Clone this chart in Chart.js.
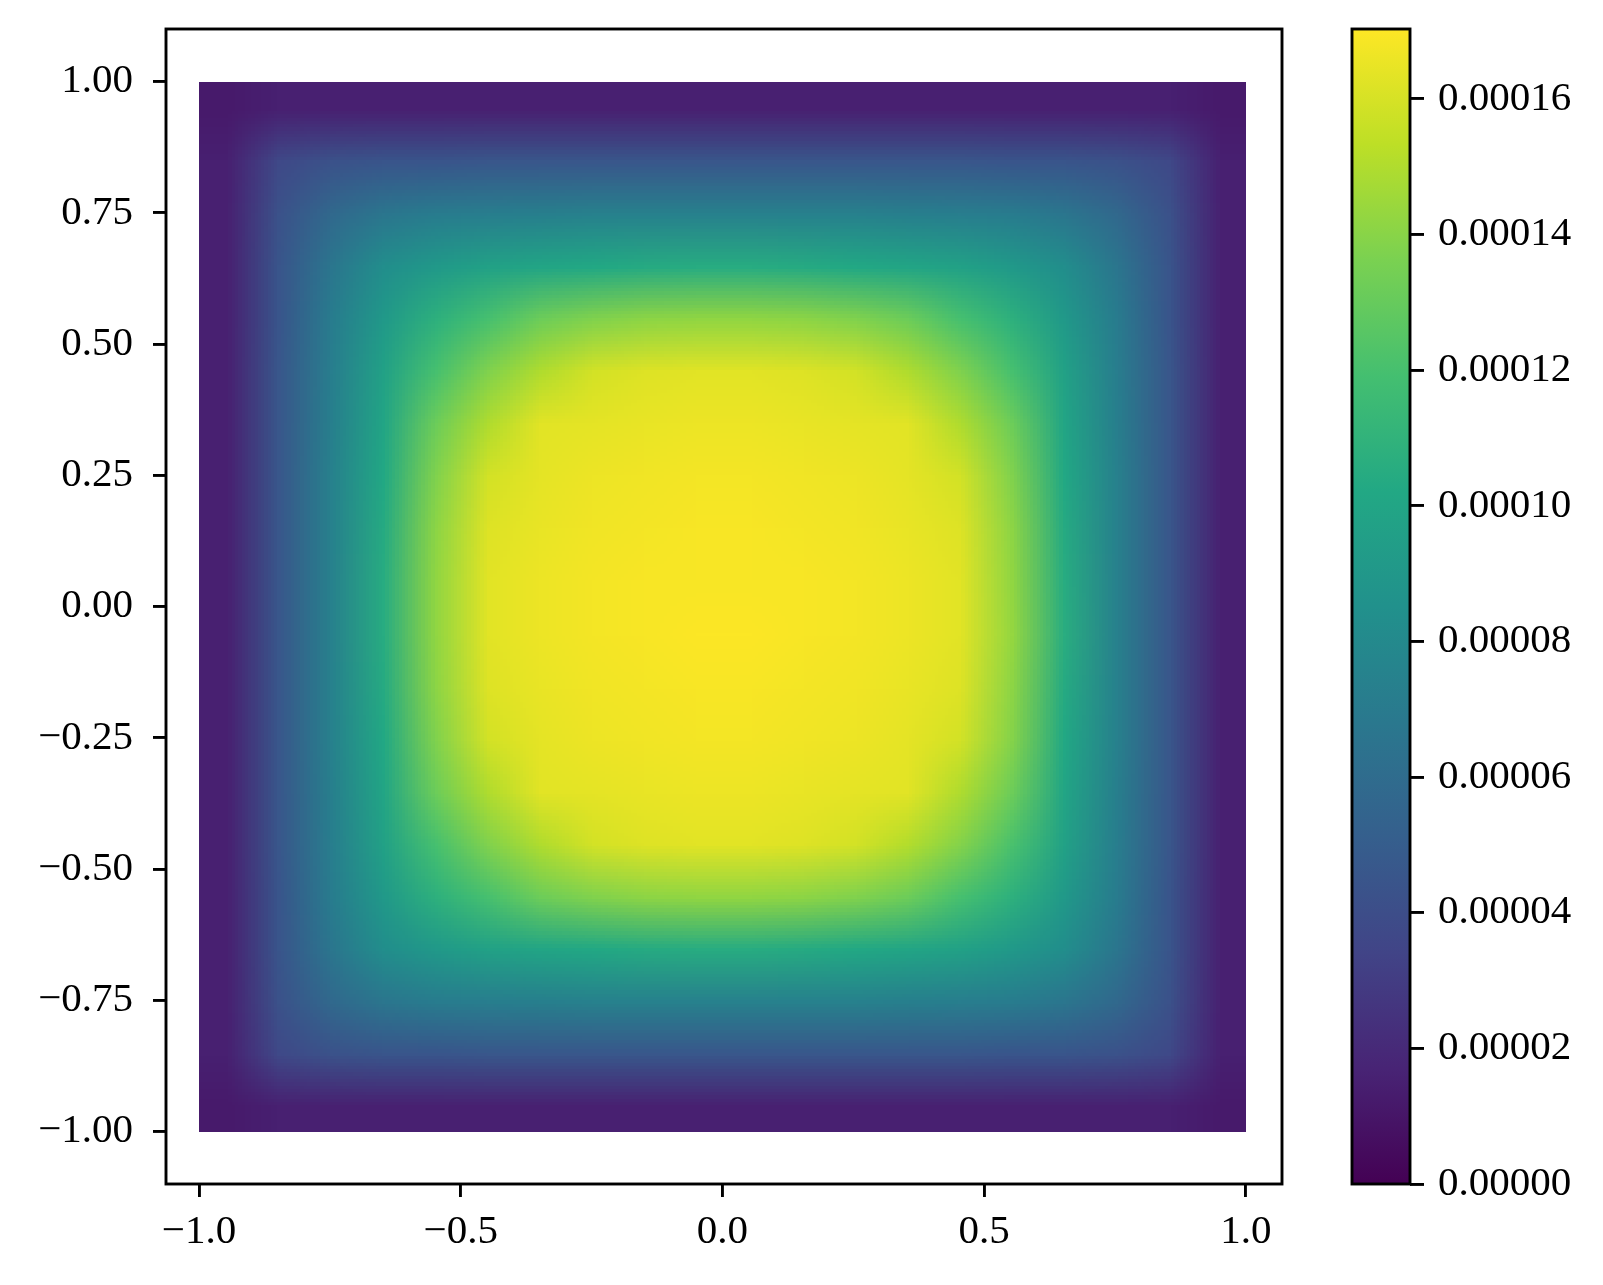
<!DOCTYPE html>
<html>
<head>
<meta charset="utf-8">
<script src="https://cdn.jsdelivr.net/npm/chart.js@4.4.0/dist/chart.umd.min.js"></script>
<style>
  body { margin: 0; background: #fff; }
  #wrap { position: relative; width: 1603px; height: 1285px; }
  canvas { position: absolute; top: 0; }
  #field { left: 0; }
  #cbar { left: 1320px; }
</style>
</head>
<body>
<div id="wrap">
  <canvas id="field" width="1320" height="1285"></canvas>
  <canvas id="cbar" width="283" height="1285"></canvas>
</div>
<script>
// cell centres of the sampled field (x left->right, y top->bottom)
const xCenters = [-0.95, -0.85, -0.75, -0.65, -0.55, -0.45, -0.35, -0.25, -0.15, -0.05,
                  0.05, 0.15, 0.25, 0.35, 0.45, 0.55, 0.65, 0.75, 0.85, 0.95];
const yCenters = [0.95, 0.85, 0.75, 0.65, 0.55, 0.45, 0.35, 0.25, 0.15, 0.05,
                  -0.05, -0.15, -0.25, -0.35, -0.45, -0.55, -0.65, -0.75, -0.85, -0.95];

// field values, in units of 1e-5
const fieldE5 = [
  [1.2,1.5,1.5,1.5,1.5,1.5,1.5,1.5,1.5,1.5,1.5,1.5,1.5,1.5,1.5,1.5,1.5,1.5,1.5,1.2],
  [1.5,3.7,4.3,4.5,4.5,4.6,4.6,4.6,4.6,4.6,4.6,4.6,4.6,4.6,4.6,4.5,4.5,4.3,3.7,1.5],
  [1.5,4.3,5.8,6.7,7.1,7.2,7.3,7.4,7.4,7.4,7.4,7.4,7.4,7.3,7.2,7.1,6.7,5.8,4.3,1.5],
  [1.5,4.5,6.7,8.3,9.1,9.7,10.0,10.2,10.4,10.5,10.5,10.4,10.2,10.0,9.7,9.1,8.3,6.7,4.5,1.5],
  [1.5,4.5,7.1,9.1,10.8,12.0,13.2,13.8,14.1,14.2,14.2,14.1,13.8,13.2,12.0,10.8,9.1,7.1,4.5,1.5],
  [1.5,4.6,7.2,9.7,12.0,13.8,15.0,15.9,16.2,16.3,16.3,16.2,15.9,15.0,13.8,12.0,9.7,7.2,4.6,1.5],
  [1.5,4.6,7.3,10.0,13.2,15.0,16.3,16.4,16.5,16.6,16.6,16.5,16.4,16.3,15.0,13.2,10.0,7.3,4.6,1.5],
  [1.5,4.6,7.4,10.2,13.8,15.9,16.4,16.6,16.7,16.8,16.8,16.7,16.6,16.4,15.9,13.8,10.2,7.4,4.6,1.5],
  [1.5,4.6,7.4,10.4,14.1,16.2,16.5,16.7,16.8,16.9,16.9,16.8,16.7,16.5,16.2,14.1,10.4,7.4,4.6,1.5],
  [1.5,4.6,7.4,10.5,14.2,16.3,16.6,16.8,16.9,16.9,16.9,16.9,16.8,16.6,16.3,14.2,10.5,7.4,4.6,1.5],
  [1.5,4.6,7.4,10.5,14.2,16.3,16.6,16.8,16.9,17.0,17.0,16.9,16.8,16.6,16.3,14.3,10.6,7.4,4.6,1.5],
  [1.5,4.6,7.4,10.4,14.1,16.2,16.5,16.7,16.8,16.9,16.9,16.8,16.7,16.5,16.2,14.1,10.4,7.4,4.6,1.5],
  [1.5,4.6,7.4,10.2,13.8,15.9,16.4,16.6,16.7,16.8,16.8,16.7,16.6,16.4,15.9,13.9,10.2,7.4,4.6,1.5],
  [1.5,4.6,7.3,10.0,13.2,15.0,16.3,16.4,16.5,16.6,16.6,16.5,16.4,16.3,15.0,13.2,10.0,7.3,4.6,1.5],
  [1.5,4.6,7.2,9.7,12.0,13.8,15.0,15.9,16.2,16.3,16.3,16.2,15.9,15.1,13.9,12.1,9.7,7.2,4.6,1.5],
  [1.5,4.5,7.1,9.1,10.8,12.0,13.2,13.8,14.1,14.2,14.2,14.1,13.8,13.2,12.0,10.8,9.1,7.1,4.5,1.5],
  [1.5,4.5,6.7,8.3,9.1,9.7,10.0,10.2,10.4,10.5,10.5,10.4,10.2,10.0,9.7,9.1,8.3,6.7,4.5,1.5],
  [1.5,4.3,5.8,6.7,7.1,7.2,7.3,7.4,7.4,7.4,7.4,7.4,7.4,7.3,7.2,7.1,6.7,5.8,4.3,1.5],
  [1.5,3.7,4.3,4.5,4.5,4.6,4.6,4.6,4.6,4.6,4.6,4.6,4.6,4.6,4.6,4.5,4.5,4.3,3.7,1.5],
  [1.2,1.5,1.5,1.5,1.5,1.5,1.5,1.5,1.5,1.5,1.5,1.5,1.5,1.5,1.5,1.5,1.5,1.5,1.5,1.2]
];

const xTicks = [-1, -0.5, 0, 0.5, 1];
const yTicks = [-1, -0.75, -0.5, -0.25, 0, 0.25, 0.5, 0.75, 1];
const cbarTicks = [0, 0.00002, 0.00004, 0.00006, 0.00008, 0.0001, 0.00012, 0.00014, 0.00016];
const cbarMin = 0;
const cbarMax = 0.0001703;

// viridis, 11 stops
const viridis = ['#440154', '#482475', '#414487', '#355f8d', '#2a788e', '#21918c',
                 '#22a884', '#44bf70', '#7ad151', '#bddf26', '#fde725'];

function hexRgb(h) {
  return [parseInt(h.slice(1, 3), 16), parseInt(h.slice(3, 5), 16), parseInt(h.slice(5, 7), 16)];
}
const viridisRgb = viridis.map(hexRgb);

function rgbFor(v) {
  let t = (v - cbarMin) / (cbarMax - cbarMin);
  t = Math.max(0, Math.min(1, t));
  const p = t * (viridisRgb.length - 1);
  const i = Math.min(Math.floor(p), viridisRgb.length - 2);
  const f = p - i;
  const a = viridisRgb[i], b = viridisRgb[i + 1];
  return a.map((ai, k) => Math.round(ai + (b[k] - ai) * f));
}

function fmt(v, d) {
  const s = Math.abs(v).toFixed(d);
  return v < -1e-9 ? '\u2212' + s : s;
}

const points = [];
yCenters.forEach((y, i) => {
  xCenters.forEach((x, j) => {
    points.push({ x: x, y: y, v: fieldE5[i][j] * 1e-5, i: i, j: j });
  });
});

const font = { family: '"Liberation Serif", "DejaVu Serif", serif', size: 41 };
const lw = 2.9;

// one texel per cell, placed on the plot through the scales (smoothed like gouraud shading)
const heatPlugin = {
  id: 'heat',
  beforeDatasetsDraw(chart) {
    const ctx = chart.ctx;
    const xs = chart.scales.x, ys = chart.scales.y;
    const nx = xCenters.length, ny = yCenters.length;
    const hw = (xCenters[1] - xCenters[0]) / 2;
    const hh = Math.abs(yCenters[0] - yCenters[1]) / 2;
    const off = document.createElement('canvas');
    off.width = nx; off.height = ny;
    const octx = off.getContext('2d');
    const img = octx.createImageData(nx, ny);
    chart.data.datasets[0].data.forEach(p => {
      const c = rgbFor(p.v);
      const k = (p.i * nx + p.j) * 4;
      img.data[k] = c[0]; img.data[k + 1] = c[1]; img.data[k + 2] = c[2]; img.data[k + 3] = 255;
    });
    octx.putImageData(img, 0, 0);
    const x0 = xs.getPixelForValue(xCenters[0] - hw);
    const x1 = xs.getPixelForValue(xCenters[nx - 1] + hw);
    const y0 = ys.getPixelForValue(yCenters[0] + hh);
    const y1 = ys.getPixelForValue(yCenters[ny - 1] - hh);
    ctx.save();
    ctx.imageSmoothingEnabled = true;
    ctx.imageSmoothingQuality = 'low';
    ctx.drawImage(off, 0, 0, nx, ny, x0, y0, x1 - x0, y1 - y0);
    ctx.restore();
  }
};

const framePlugin = {
  id: 'frame',
  afterDraw(chart) {
    const a = chart.chartArea;
    const ctx = chart.ctx;
    ctx.save();
    ctx.strokeStyle = '#000';
    ctx.lineWidth = lw;
    ctx.strokeRect(a.left, a.top, a.right - a.left, a.bottom - a.top);
    ctx.restore();
  }
};

function noPad(s) {
  s.paddingTop = 0; s.paddingBottom = 0; s.paddingLeft = 0; s.paddingRight = 0;
}

const tickGrid = { display: true, drawOnChartArea: false, drawTicks: true, tickLength: 13,
                   tickWidth: lw, lineWidth: lw, tickColor: '#000', color: '#000' };

new Chart(document.getElementById('field'), {
  type: 'scatter',
  data: { datasets: [{ data: points, pointRadius: 0, pointHoverRadius: 0 }] },
  options: {
    responsive: false,
    animation: false,
    devicePixelRatio: 1,
    events: [],
    layout: { autoPadding: false, padding: { left: 0, top: 29, right: 38, bottom: 0 } },
    plugins: { legend: { display: false }, tooltip: { enabled: false } },
    scales: {
      x: {
        type: 'linear', min: -1.063, max: 1.069,
        afterBuildTicks: s => { s.ticks = xTicks.map(v => ({ value: v })); },
        afterFit: s => { s.height = 101; noPad(s); },
        grid: tickGrid,
        border: { display: false },
        ticks: { font: font, color: '#000', padding: 11, maxRotation: 0, autoSkip: false,
                 callback: v => fmt(v, 1) }
      },
      y: {
        type: 'linear', min: -1.1, max: 1.1,
        afterBuildTicks: s => { s.ticks = yTicks.map(v => ({ value: v })); },
        afterFit: s => { s.width = 166; noPad(s); },
        grid: tickGrid,
        border: { display: false },
        ticks: { font: font, color: '#000', padding: 20, autoSkip: false,
                 callback: v => fmt(v, 2) }
      }
    }
  },
  plugins: [heatPlugin, framePlugin]
});

// colour bar
new Chart(document.getElementById('cbar'), {
  type: 'bar',
  data: {
    labels: [''],
    datasets: [{
      data: [[cbarMin, cbarMax]],
      borderWidth: 0,
      barPercentage: 1,
      categoryPercentage: 1,
      backgroundColor: c => {
        const ys = c.chart.scales.y;
        const yb = ys ? ys.getPixelForValue(cbarMin) : NaN;
        const yt = ys ? ys.getPixelForValue(cbarMax) : NaN;
        if (!isFinite(yb) || !isFinite(yt) || yb === yt) return viridis[5];
        const g = c.chart.ctx.createLinearGradient(0, yb, 0, yt);
        viridis.forEach((col, i) => g.addColorStop(i / (viridis.length - 1), col));
        return g;
      }
    }]
  },
  options: {
    responsive: false,
    animation: false,
    devicePixelRatio: 1,
    events: [],
    layout: { autoPadding: false, padding: { left: 32, top: 29, right: 0, bottom: 101 } },
    plugins: { legend: { display: false }, tooltip: { enabled: false } },
    scales: {
      x: { display: false },
      y: {
        position: 'right', min: cbarMin, max: cbarMax,
        afterBuildTicks: s => { s.ticks = cbarTicks.map(v => ({ value: v })); },
        afterFit: s => { s.width = 193; noPad(s); },
        grid: Object.assign({}, tickGrid, { tickLength: 14 }),
        border: { display: false },
        ticks: { font: font, color: '#000', padding: 14, autoSkip: false,
                 callback: v => v.toFixed(5) }
      }
    }
  },
  plugins: [framePlugin]
});
</script>
</body>
</html>
